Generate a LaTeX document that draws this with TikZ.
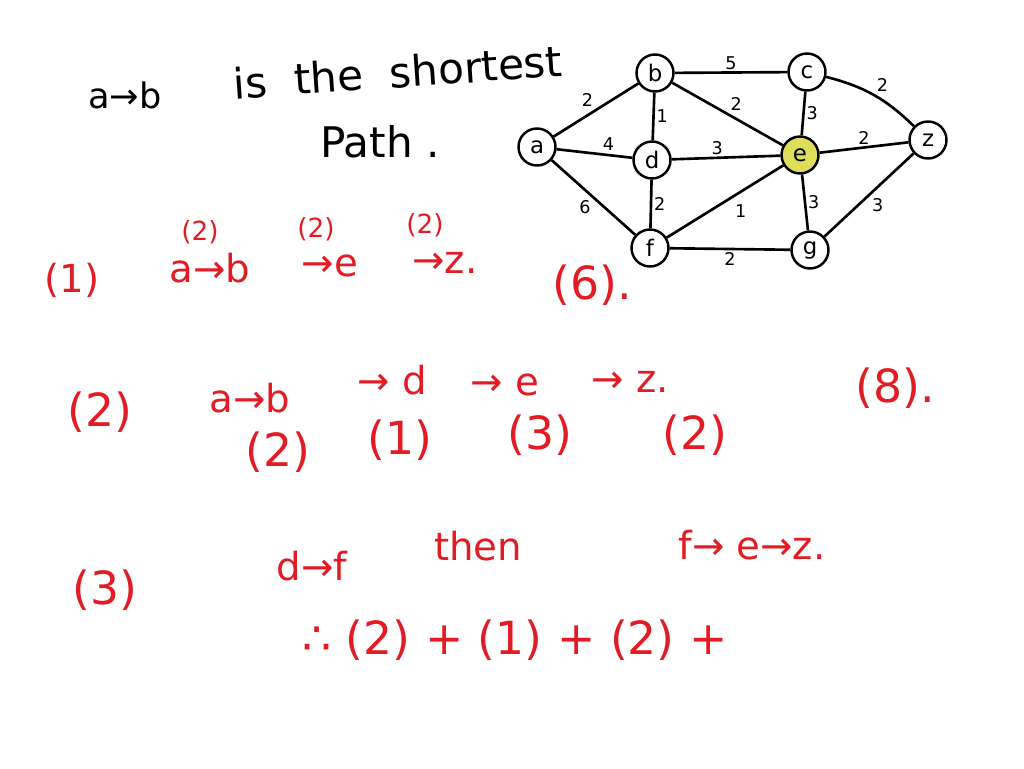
\documentclass[tikz,border=0pt]{standalone}
\usepackage{fontspec}
\setmainfont{DejaVu Sans}
\usetikzlibrary{positioning}
\definecolor{pen}{RGB}{226,28,36}
\definecolor{hilite}{RGB}{222,222,92}
\tikzstyle{vertex} = [circle, draw=black, line width=1.4pt, fill=white, minimum size=0.74cm, inner sep=0pt, font=\fontsize{13}{14}\selectfont]
\tikzstyle{hivertex} = [vertex, fill=hilite]
\tikzstyle{edge} = [line width=1.5pt]
\tikzstyle{wt} = [inner sep=1pt, font=\fontsize{10}{12}\selectfont]
\tikzstyle{blacknote} = [inner sep=0pt, font=\fontsize{20}{24}\selectfont]
\tikzstyle{rednote} = [inner sep=0pt, text=pen, font=\fontsize{22}{26}\selectfont]
\tikzstyle{redbig} = [inner sep=0pt, text=pen, font=\fontsize{26}{30}\selectfont]
\tikzstyle{redsmall} = [inner sep=0pt, text=pen, font=\fontsize{15}{18}\selectfont]

\begin{document}
\begin{tikzpicture}[x=0.02cm, y=-0.02cm]
    \useasboundingbox (0,0) rectangle (1024,768);

    % the graph
    \node (a) [vertex] at (537,147) {a};
    \node (b) [vertex] at (655,73) {b};
    \node (c) [vertex] at (807,72) {c};
    \node (d) [vertex] at (652,160) {d};
    \node (e) [hivertex] at (800,155) {e};
    \node (z) [vertex] at (928,140) {z};
    \node (f) [vertex] at (650,248) {f};
    \node (g) [vertex] at (810,250) {g};

    \draw [edge] (a) -- node[wt, above left] {2} (b);
    \draw [edge] (a) -- node[wt, above, xshift=8pt] {4} (d);
    \draw [edge] (a) -- node[wt, below left] {6} (f);
    \draw [edge] (b) -- node[wt, above] {5} (c);
    \draw [edge] (b) -- node[wt, right] {1} (d);
    \draw [edge] (b) -- node[wt, above right] {2} (e);
    \draw [edge] (c) -- node[wt, right] {3} (e);
    \draw [edge] (c) to[bend left=15] node[wt, above right] {2} (z);
    \draw [edge] (d) -- node[wt, above, xshift=-5pt] {3} (e);
    \draw [edge] (e) -- node[wt, above] {2} (z);
    \draw [edge] (d) -- node[wt, right] {2} (f);
    \draw [edge] (f) -- node[wt, below right, xshift=4pt] {1} (e);
    \draw [edge] (e) -- node[wt, right] {3} (g);
    \draw [edge] (g) -- node[wt, below right] {3} (z);
    \draw [edge] (f) -- node[wt, below] {2} (g);

    % black notes
    \node (claim) [blacknote] at (125,95) {a→b};
    \node (shortest) [blacknote, font=\fontsize{24}{28}\selectfont, rotate=4] at (398,72) {is\ \ the\ \ shortest};
    \node (path) [blacknote, font=\fontsize{24}{28}\selectfont] at (380,142) {Path .};

    % (1)
    \node (one) [rednote] at (72,280) {(1)};
    \node (oa) [rednote] at (210,268) {a→b};
    \node (ow1) [redsmall] at (200,232) {(2)};
    \node (ob) [rednote] at (330,266) {→e};
    \node (ow2) [redsmall] at (316,229) {(2)};
    \node (oc) [rednote] at (445,263) {→z.};
    \node (ow3) [redsmall] at (425,225) {(2)};
    \node (otot) [redbig] at (592,285) {(6).};

    % (2)
    \node (two) [redbig] at (100,412) {(2)};
    \node (ta) [rednote] at (250,398) {a→b};
    \node (tb) [rednote] at (392,380) {→ d};
    \node (tc) [rednote] at (505,385) {→ e};
    \node (td) [rednote] at (630,382) {→ z.};
    \node (ttot) [redbig] at (895,388) {(8).};
    \node (tw1) [redbig] at (278,452) {(2)};
    \node (tw2) [redbig] at (400,440) {(1)};
    \node (tw3) [redbig] at (540,435) {(3)};
    \node (tw4) [redbig] at (695,435) {(2)};

    % (3)
    \node (three) [redbig] at (105,590) {(3)};
    \node (sa) [rednote] at (312,566) {d→f};
    \node (sb) [rednote] at (478,546) {then};
    \node (sc) [rednote] at (752,545) {f→\ e→z.};
    \node (ssum) [redbig] at (515,640) {∴ (2) + (1) + (2) +};
\end{tikzpicture}
\end{document}
